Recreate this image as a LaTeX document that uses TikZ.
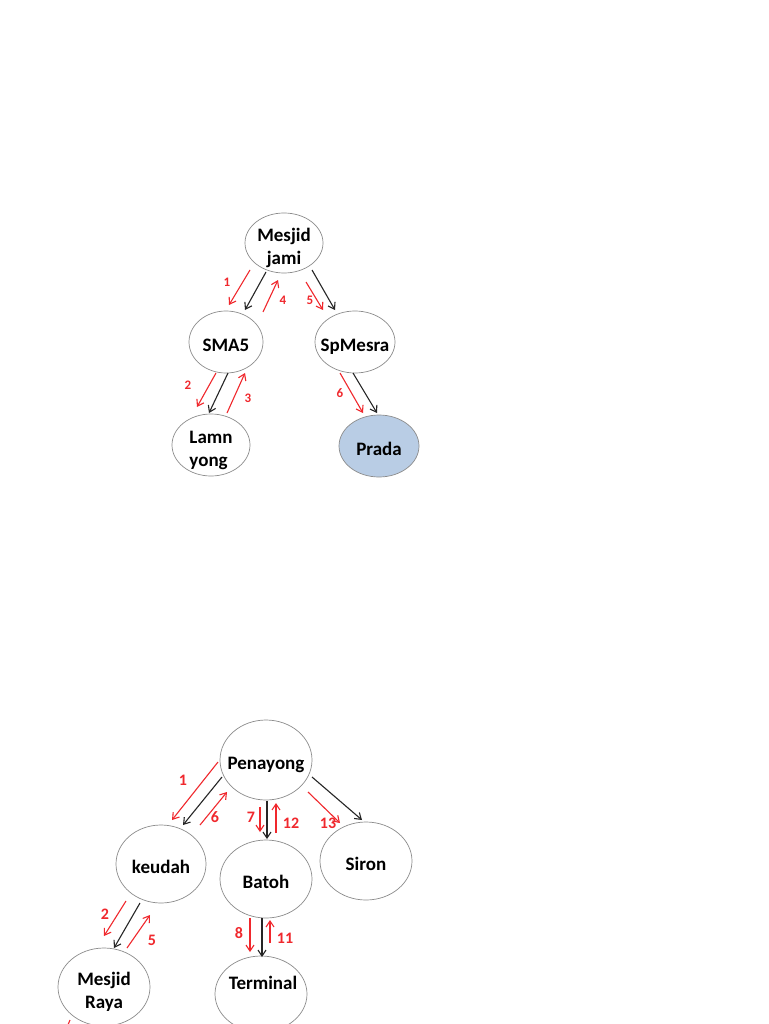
\documentclass[tikz,border=0pt]{standalone}
\usepackage{fontspec}
\setmainfont{Carlito}
\usetikzlibrary{arrows.meta,calc,shapes.geometric}
\definecolor{pradafill}{HTML}{B9CDE5}
\definecolor{rd}{HTML}{F0282D}
\begin{document}
\begin{tikzpicture}[x=1pt,y=-1pt,
  ell/.style={ellipse,draw=black!45,line width=0.7pt,inner xsep=-12pt,inner ysep=-3pt,align=center,font=\fontsize{19}{23}\selectfont\bfseries},
  sl/.style={text height=18pt,text depth=0pt},
  ml/.style={inner ysep=-8pt},
  blk/.style={draw=black!85,line width=1.1pt,-{Straight Barb[length=6pt,width=8pt,line width=1.1pt]}},
  red/.style={draw=rd,line width=1.1pt,-{Straight Barb[length=6pt,width=8pt,line width=1.1pt]}},
  num/.style={text=rd,inner sep=0pt,font=\fontsize{13}{13}\selectfont\bfseries},
  numb/.style={text=rd,inner sep=0pt,font=\fontsize{16}{16}\selectfont\bfseries}]
\useasboundingbox[fill=white] (0,0) rectangle (768,1024);
\begin{scope}
\clip (0,0) rectangle (768,1024);
% ---- top tree ----
\node[ell,ml,minimum width=78pt,minimum height=60pt] (mj) at (284,243) {\rule{0pt}{24pt}Mesjid\\jami};
\node[ell,sl,minimum width=74pt,minimum height=62pt] (sma) at (226,342) {SMA5};
\node[ell,sl,minimum width=80pt,minimum height=62pt] (spm) at (355,342) {SpMesra};
\node[ell,ml,minimum width=78pt,minimum height=62pt,align=left] (lamn) at (211,445) {\rule{0pt}{23pt}Lamn\\yong};
\node[ell,sl,minimum width=80pt,minimum height=62pt,fill=pradafill] (prada) at (379,446) {Prada};

\draw[blk] ($(mj)+(-18,29)$) -- ($(sma)+(19,-32)$);
\draw[red] ($(mj)+(-34,27)$) -- ($(sma)+(3,-37)$);
\draw[red] ($(sma)+(37,-30)$) -- ($(mj)+(-6,37)$);
\draw[red] ($(mj)+(22,39)$) -- ($(spm)+(-32,-32)$);
\draw[blk] ($(mj)+(28,27)$) -- ($(spm)+(-20,-32)$);
\draw[blk] ($(sma)+(2,31)$) -- ($(lamn)+(-2,-32)$);
\draw[red] ($(sma)+(-10,31)$) -- ($(lamn)+(-14,-38)$);
\draw[red] ($(lamn)+(16,-32)$) -- ($(sma)+(19,31)$);
\draw[blk] ($(spm)+(-2,31)$) -- ($(prada)+(-2,-33)$);
\draw[red] ($(spm)+(-15,31)$) -- ($(prada)+(-16,-33)$);

\node[num] (t1) at (227,282) {1};
\node[num] (t4) at (283,300) {4};
\node[num] (t5) at (310,300) {5};
\node[num] (t2) at (188,385) {2};
\node[num] (t3) at (248,398) {3};
\node[num] (t6) at (340,393) {6};

% ---- bottom tree ----
\node[ell,sl,minimum width=92pt,minimum height=80pt] (pen) at (266,760) {Penayong};
\node[ell,sl,minimum width=90pt,minimum height=78pt] (keu) at (161,864) {keudah};
\node[ell,sl,minimum width=92pt,minimum height=78pt] (bat) at (266,879) {Batoh};
\node[ell,sl,minimum width=92pt,minimum height=78pt] (sir) at (366,861) {Siron};
\node[ell,ml,minimum width=92pt,minimum height=78pt] (mr) at (104,987) {\rule{0pt}{22pt}Mesjid\\Raya};
\node[ell,minimum width=92pt,minimum height=76pt] (ter) at (261,994) {};
\node[inner sep=0pt,font=\fontsize{19}{23}\selectfont\bfseries] (terT) at ($(ter)+(2,-11)$) {Terminal};
\coordinate (stub) at ($(mr)+(-39,45)$);

\draw[blk] ($(pen)+(-44,17)$) -- ($(keu)+(22,-39)$);
\draw[red] ($(pen)+(-48,2)$) -- ($(keu)+(11,-44)$);
\draw[red] ($(keu)+(39,-39)$) -- ($(pen)+(-39,32)$);
\draw[blk] ($(pen)+(1,41)$) -- ($(bat)+(1,-40)$);
\draw[red] ($(pen)+(-6,47)$) -- ($(bat)+(-6,-47)$);
\draw[red] ($(bat)+(10,-46)$) -- ($(pen)+(10,43)$);
\draw[blk] ($(pen)+(46,17)$) -- ($(sir)+(-4,-41)$);
\draw[red] ($(pen)+(42,32)$) -- ($(sir)+(-26,-38)$);
\draw[blk] ($(keu)+(-21,39)$) -- ($(mr)+(10,-39)$);
\draw[red] ($(keu)+(-35,37)$) -- ($(mr)+(0,-51)$);
\draw[red] ($(mr)+(23,-39)$) -- ($(keu)+(-11,51)$);
\draw[blk] ($(bat)+(-4,39)$) -- ($(ter)+(1,-37)$);
\draw[red] ($(bat)+(-16,39)$) -- ($(ter)+(-11,-42)$);
\draw[red] ($(ter)+(9,-51)$) -- ($(bat)+(4,41)$);
\draw[draw=rd,line width=1.1pt] ($(mr)+(-34,33)$) -- (stub);

\node[numb] (b1) at (183,780) {1};
\node[numb] (b6) at (215,817) {6};
\node[numb] (b7) at (251,817) {7};
\node[numb] (b12) at (291,823) {12};
\node[numb] (b13) at (328,823) {13};
\node[numb] (b2) at (105,914) {2};
\node[numb] (b5) at (152,940) {5};
\node[numb] (b8) at (239,933) {8};
\node[numb] (b11) at (285,938) {11};
\end{scope}
\end{tikzpicture}
\end{document}
